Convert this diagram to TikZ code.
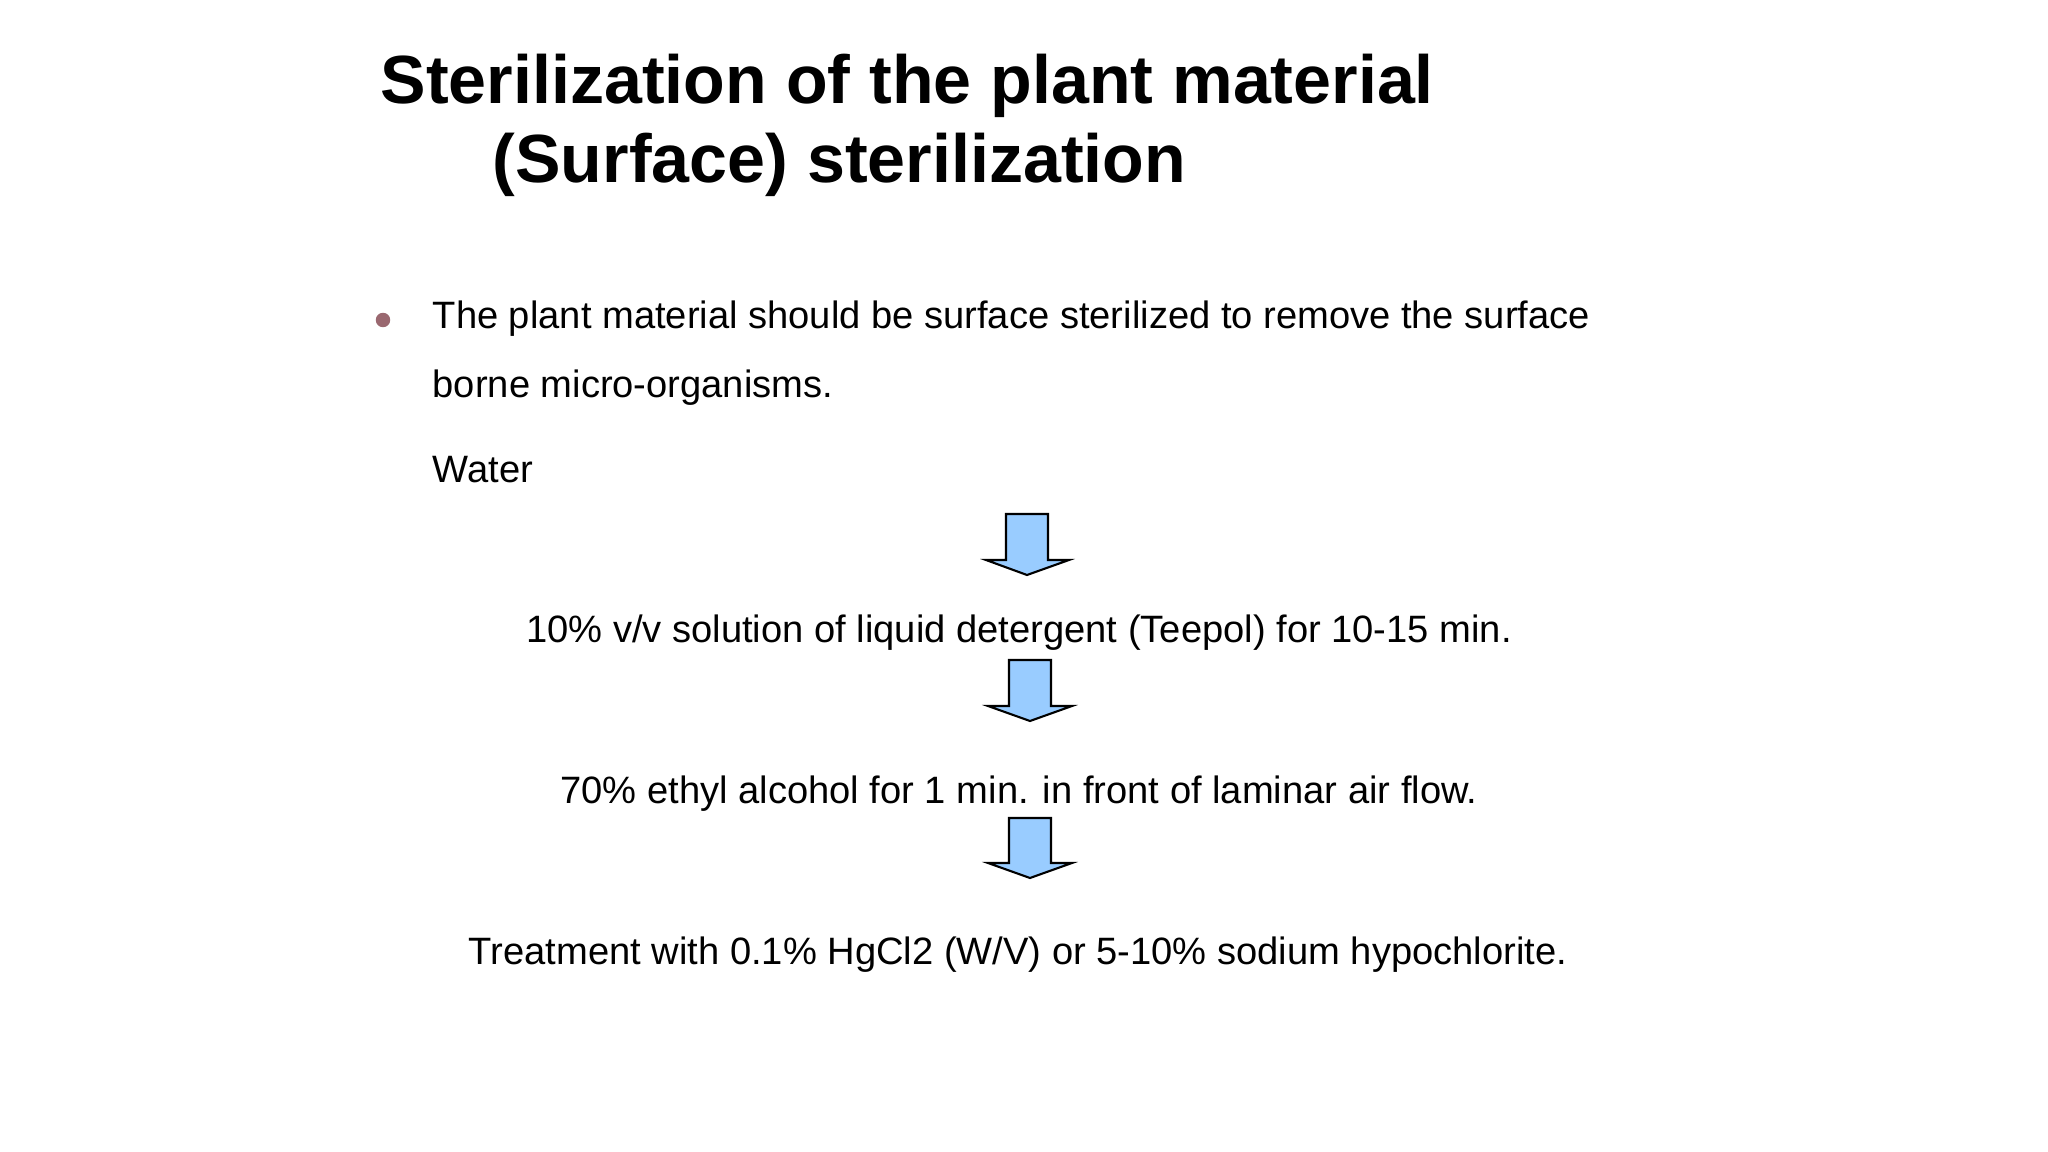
\documentclass[tikz,border=0pt]{standalone}
\usepackage{fontspec}
\setmainfont{Liberation Sans}
\usepackage{xcolor}

\definecolor{arrowblue}{HTML}{99CCFF}
\definecolor{bulletmauve}{HTML}{9A6870}

\begin{document}
\begin{tikzpicture}[x=1cm,y=-1cm]
  \useasboundingbox[fill=white] (0,0) rectangle (20.48,11.52);

  % title
  \node[anchor=base west, inner sep=0pt, font=\fontsize{19.4}{23}\selectfont\bfseries] (title1) at (3.80,1.04) {Sterilization of the plant material};
  \node[anchor=base west, inner sep=0pt, font=\fontsize{19.4}{23}\selectfont\bfseries] (title2) at (4.92,1.83) {(Surface) sterilization};

  % bullet text
  \draw[bulletmauve, fill=bulletmauve] (3.83,3.20) circle[radius=0.065];
  \node[anchor=base west, inner sep=0pt, font=\fontsize{10.85}{13}\selectfont] (line1) at (4.32,3.29) {The plant material should be surface sterilized to remove the surface};
  \node[anchor=base west, inner sep=0pt, font=\fontsize{10.85}{13}\selectfont] (line2) at (4.32,3.98) {borne micro-organisms.};
  \node[anchor=base west, inner sep=0pt, font=\fontsize{10.85}{13}\selectfont] (water) at (4.32,4.83) {Water};

  % steps
  \node[anchor=base, inner sep=0pt, font=\fontsize{10.85}{13}\selectfont] (teepol) at (10.19,6.43) {10\% v/v solution of liquid detergent (Teepol) for 10-15 min.};
  \node[anchor=base, inner sep=0pt, font=\fontsize{10.85}{13}\selectfont] (alcohol) at (10.19,8.03) {70\% ethyl alcohol for 1 min. in front of laminar air flow.};
  \node[anchor=base, inner sep=0pt, font=\fontsize{10.85}{13}\selectfont] (hgcl) at (10.18,9.64) {Treatment with 0.1\% HgCl2 (W/V) or 5-10\% sodium hypochlorite.};

  % block arrows
  \draw[semithick, fill=arrowblue] (10.06,5.14) -- (10.48,5.14) -- (10.48,5.60) -- (10.69,5.60) -- (10.27,5.75) -- (9.86,5.60) -- (10.06,5.60) -- cycle;
  \draw[semithick, fill=arrowblue] (10.09,6.60) -- (10.51,6.60) -- (10.51,7.06) -- (10.72,7.06) -- (10.30,7.21) -- (9.88,7.06) -- (10.09,7.06) -- cycle;
  \draw[semithick, fill=arrowblue] (10.09,8.18) -- (10.51,8.18) -- (10.51,8.63) -- (10.72,8.63) -- (10.30,8.78) -- (9.88,8.63) -- (10.09,8.63) -- cycle;
\end{tikzpicture}
\end{document}
